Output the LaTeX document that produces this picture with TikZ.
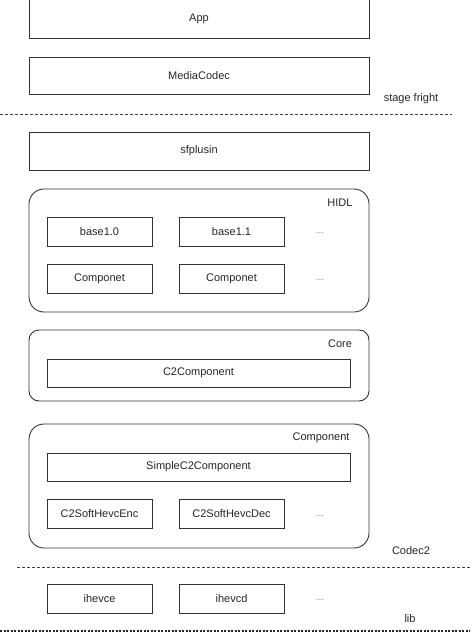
\documentclass[tikz,border=0pt]{standalone}
\usepackage{fontspec}
\setmainfont{Liberation Sans}
\begin{document}
\begin{tikzpicture}[x=1pt,y=-1pt,
  every node/.style={font=\fontsize{11}{13}\selectfont, text=black!85},
  wide/.style={draw=black!80, line width=0.9pt, inner sep=0pt, minimum width=340pt},
  small/.style={draw=black!80, line width=0.9pt, inner sep=0pt, minimum width=105pt, minimum height=29pt},
  inner/.style={draw=black!80, line width=0.9pt, inner sep=0pt, minimum width=303pt, minimum height=28pt},
  container/.style={draw=black!80, line width=0.9pt, inner sep=0pt, minimum width=340pt},
  dots/.style={font=\fontsize{10}{12}\selectfont, text=black!45},
  sep/.style={draw=black!75, line width=0.8pt, dash pattern=on 3pt off 2pt},
  sepb/.style={draw=black!85, line width=1.2pt, dash pattern=on 2pt off 1.5pt}]
\useasboundingbox (0,0) rectangle (474,634);
% top layer
\node[wide, minimum height=39pt] (app) at (199,18.5) {App};
\node[wide, minimum height=37pt] (mc) at (199,75.5) {MediaCodec};
\node (sf) at (411,99) {stage fright};
\coordinate (l1a) at (0,114);
\coordinate (l1b) at (452,114);
\draw[sep] (l1a) -- (l1b);
% sfplusin
\node[wide, minimum height=38pt] (sfp) at (199,151) {sfplusin};
% HIDL
\node[container, rounded corners=15pt, minimum height=123pt] (hidl) at (199,250.5) {};
\node (hidlt) at (340,203) {HIDL};
\node[small] (b10) at (99.5,231.5) {base1.0};
\node[small] (b11) at (231.5,231.5) {base1.1};
\node[dots] (d1) at (320,233) {...};
\node[small] (cp1) at (99.5,278.5) {Componet};
\node[small] (cp2) at (231.5,278.5) {Componet};
\node[dots] (d2) at (320,280) {...};
% Core
\node[container, rounded corners=10pt, minimum height=71pt] (core) at (199,365.5) {};
\node (coret) at (340,344) {Core};
\node[inner] (c2c) at (198.5,373) {C2Component};
% Component
\node[container, rounded corners=15pt, minimum height=124pt] (comp) at (199,486) {};
\node (compt) at (321,438) {Component};
\node[inner] (sc2c) at (198.5,467) {SimpleC2Component};
\node[small] (enc) at (99.5,514) {C2SoftHevcEnc};
\node[small] (dec) at (231.5,514) {C2SoftHevcDec};
\node[dots] (d3) at (320,516) {...};
\node (codec2) at (411,551) {Codec2};
\coordinate (l2a) at (17,567);
\coordinate (l2b) at (470,567);
\draw[sep] (l2a) -- (l2b);
% lib
\node[small] (ihevce) at (99.5,599) {ihevce};
\node[small] (ihevcd) at (231.5,599) {ihevcd};
\node[dots] (d4) at (320,600) {...};
\node (lib) at (410,619) {lib};
\coordinate (l3a) at (0,631);
\coordinate (l3b) at (470,631);
\draw[sepb] (l3a) -- (l3b);
\end{tikzpicture}
\end{document}
